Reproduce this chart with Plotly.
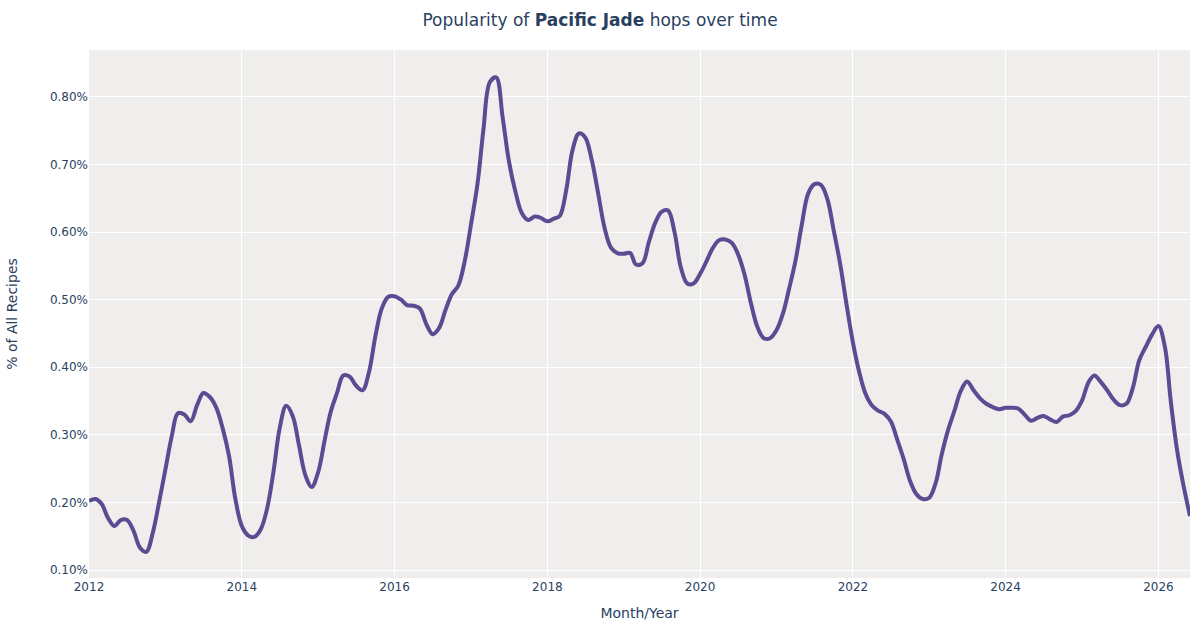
import pandas as pd
import plotly.graph_objects as go

start_month = "2012-01-01"
popularity_pct = [
    0.202, 0.205, 0.198, 0.177, 0.165, 0.174, 0.174, 0.158, 0.133, 0.127, 0.155, 0.200,
    0.250, 0.300, 0.332, 0.330, 0.320, 0.344, 0.362, 0.356, 0.340, 0.310, 0.268, 0.205,
    0.165, 0.151, 0.149, 0.160, 0.190, 0.245, 0.310, 0.343, 0.328, 0.285, 0.240, 0.223,
    0.245, 0.292, 0.333, 0.362, 0.388, 0.386, 0.373, 0.366, 0.393, 0.445, 0.487, 0.504,
    0.505, 0.500, 0.492, 0.491, 0.487, 0.464, 0.449, 0.458, 0.485, 0.508, 0.521, 0.556,
    0.612, 0.672, 0.751, 0.822, 0.829, 0.770, 0.705, 0.660, 0.628, 0.618, 0.623, 0.621,
    0.616, 0.620, 0.624, 0.662, 0.721, 0.746, 0.740, 0.707, 0.657, 0.607, 0.577, 0.569,
    0.568, 0.569, 0.552, 0.554, 0.585, 0.614, 0.630, 0.632, 0.600, 0.548, 0.524, 0.524,
    0.538, 0.557, 0.576, 0.588, 0.589, 0.584, 0.567, 0.537, 0.494, 0.460, 0.443, 0.443,
    0.455, 0.480, 0.515, 0.557, 0.610, 0.657, 0.671, 0.670, 0.649, 0.603, 0.553, 0.494,
    0.437, 0.392, 0.362, 0.344, 0.336, 0.331, 0.320, 0.293, 0.264, 0.232, 0.212, 0.205,
    0.207, 0.229, 0.270, 0.307, 0.335, 0.365, 0.379, 0.366, 0.354, 0.346, 0.341, 0.338,
    0.340, 0.340, 0.339, 0.330, 0.321, 0.325, 0.328, 0.323, 0.319, 0.327, 0.329, 0.335,
    0.351, 0.378, 0.388, 0.378, 0.366, 0.352, 0.344, 0.346, 0.370, 0.410, 0.430, 0.448,
    0.461, 0.430, 0.350, 0.276, 0.225, 0.180,
]
months = pd.date_range(start_month, periods=len(popularity_pct), freq="MS")

fig = go.Figure(
    go.Scatter(
        x=months,
        y=popularity_pct,
        mode="lines",
        line=dict(color="#5c4a92", width=4, shape="spline", smoothing=1),
        hovertemplate="%{x|%b %Y}: %{y:.2f}%<extra></extra>",
    )
)

fig.update_layout(
    width=1200,
    height=630,
    margin=dict(l=89, r=10, t=50, b=52),
    paper_bgcolor="white",
    plot_bgcolor="#efeeec",
    font=dict(family="DejaVu Sans, sans-serif", size=12, color="#2a3f5f"),
    title=dict(
        text="Popularity of <b>Pacific Jade</b> hops over time",
        x=0.5,
        xanchor="center",
        y=0.968,
        yanchor="middle",
        font=dict(size=17),
    ),
    showlegend=False,
)

fig.update_xaxes(
    title=dict(text="Month/Year", font=dict(size=14)),
    range=[months[0], months[-1]],
    dtick="M24",
    tickformat="%Y",
    showgrid=True,
    gridcolor="white",
    gridwidth=1,
    zeroline=False,
    showline=False,
)
fig.update_yaxes(
    title=dict(text="% of All Recipes", font=dict(size=14), standoff=28),
    range=[0.0882, 0.8695],
    dtick=0.1,
    tick0=0,
    tickformat=".2f",
    ticksuffix="%",
    showgrid=True,
    gridcolor="white",
    gridwidth=1,
    zeroline=False,
    showline=False,
)

fig.write_html("out.html")
